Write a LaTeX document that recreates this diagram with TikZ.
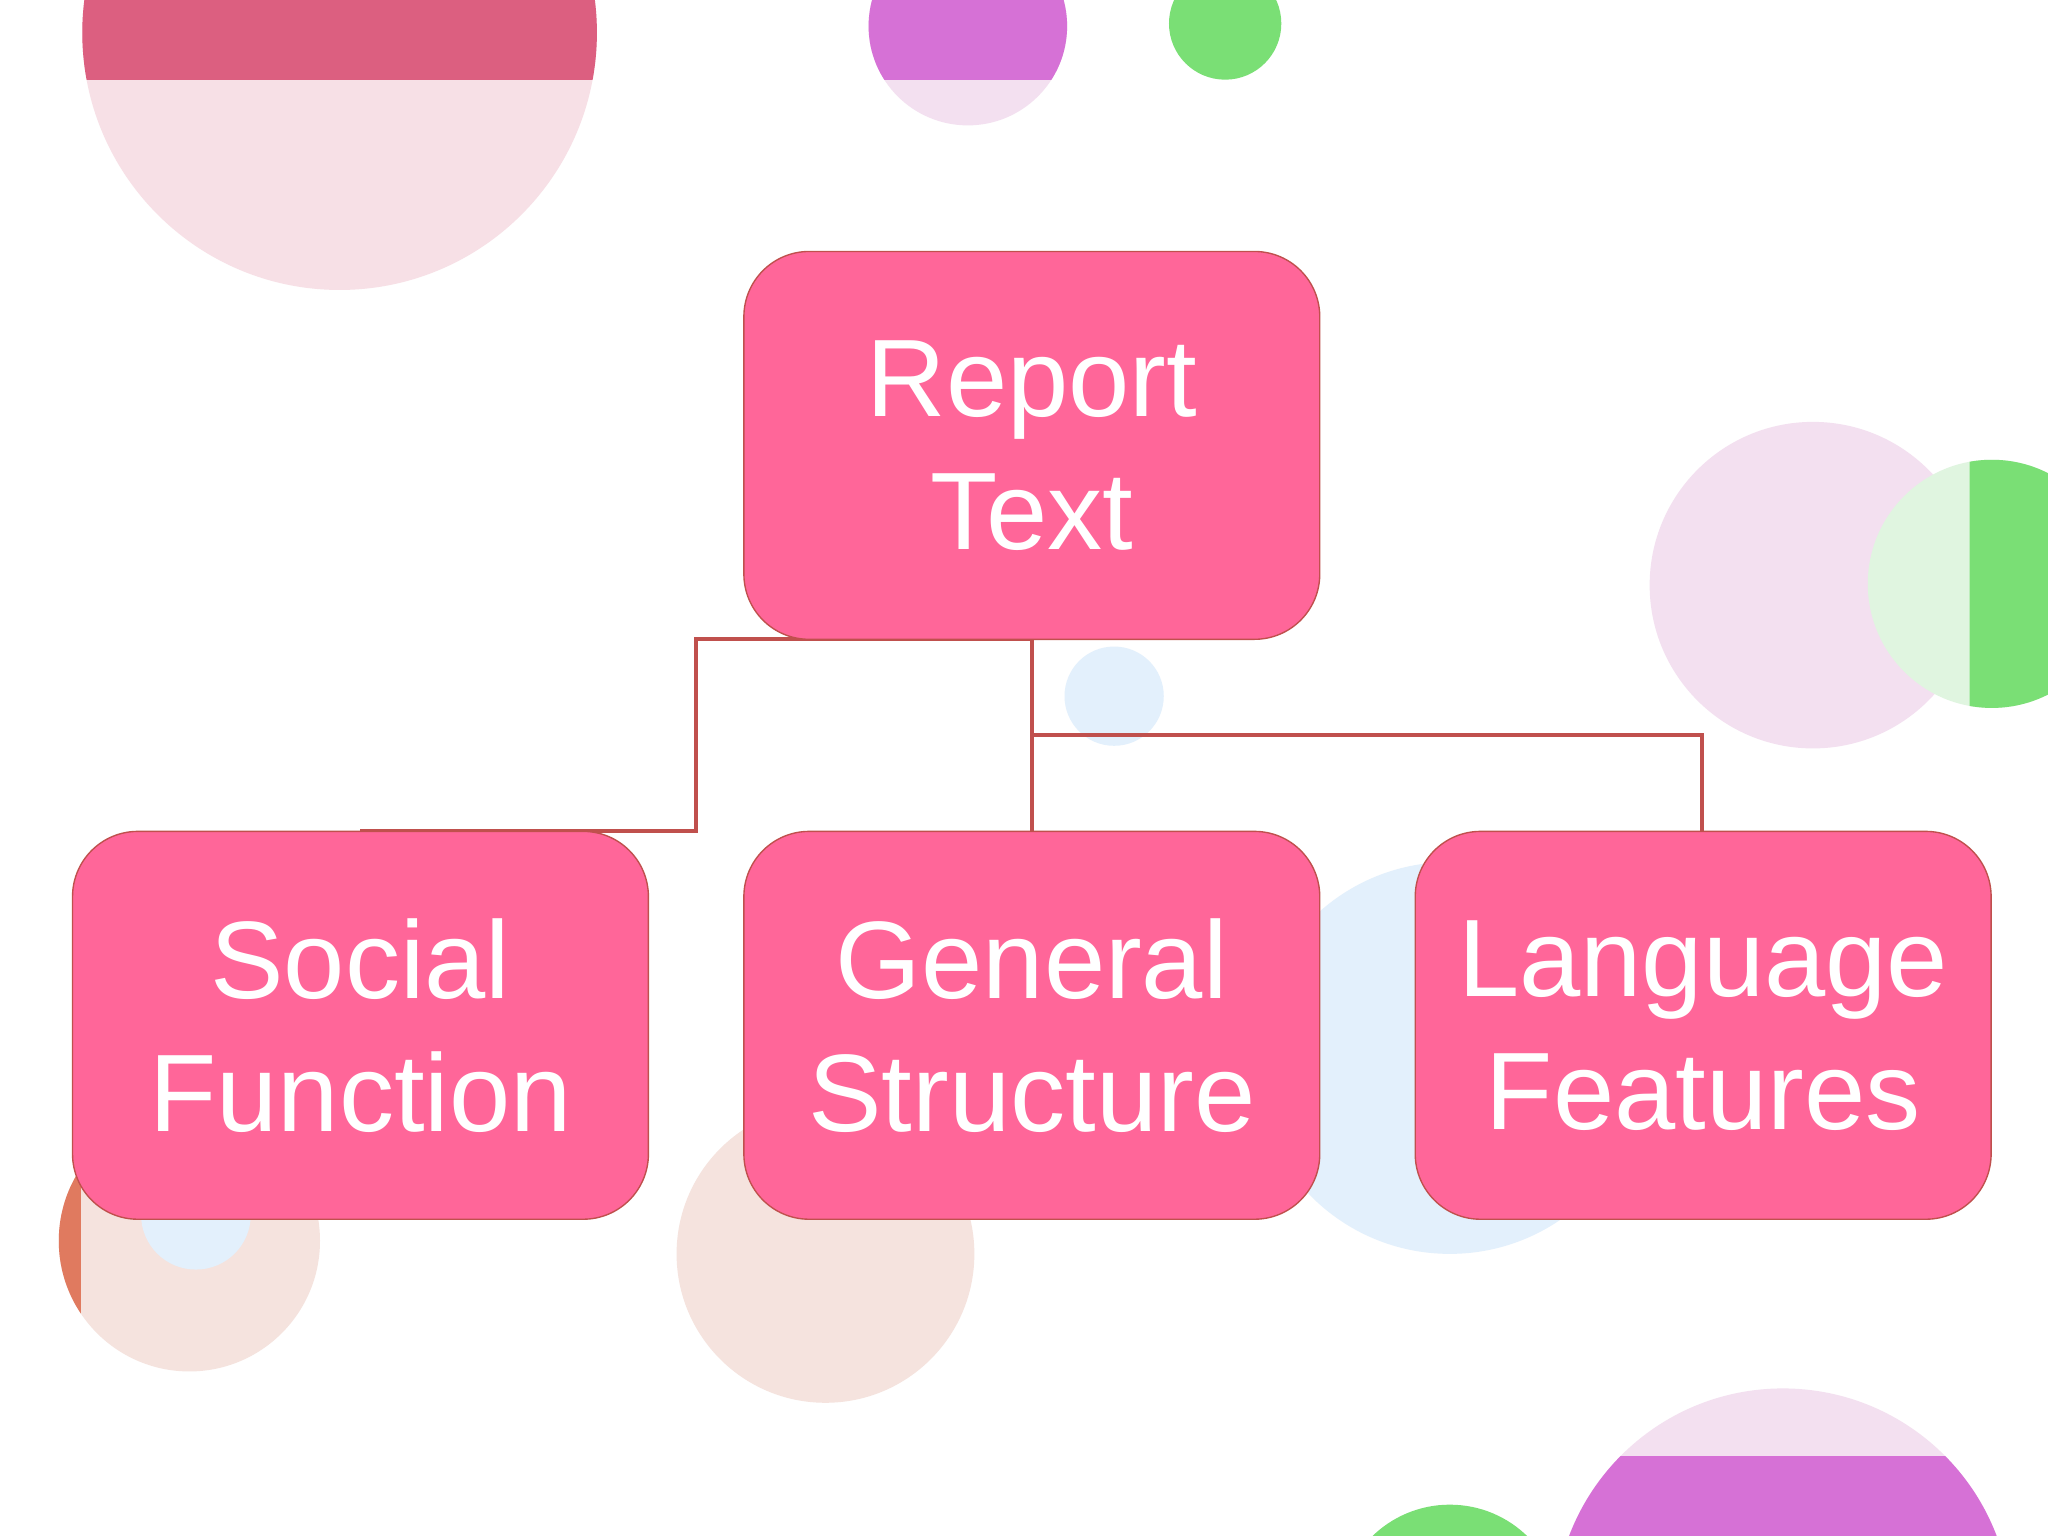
\documentclass[tikz,border=0pt]{standalone}
\usepackage{fontspec}
\setmainfont{Liberation Sans}
\definecolor{boxc}{HTML}{FF6699}
\definecolor{edgec}{HTML}{C0504D}
\definecolor{lpink}{HTML}{F7E0E6}
\definecolor{dpink}{HTML}{DC5F80}
\definecolor{purp}{HTML}{D671D6}
\definecolor{lpurp}{HTML}{F3E0F0}
\definecolor{grn}{HTML}{7ADF75}
\definecolor{lgrn}{HTML}{E0F5E0}
\definecolor{lblue}{HTML}{E3F0FC}
\definecolor{peach}{HTML}{F5E3DE}
\definecolor{orng}{HTML}{E07A5F}
\begin{document}
\begin{tikzpicture}[x=0.02cm,y=-0.02cm,
  box/.style={draw=edgec,line width=0.6pt,fill=boxc,rounded corners=1cm,minimum width=8.82cm,minimum height=5.94cm,text=white,font=\fontsize{48}{58}\selectfont,align=center,anchor=north west,inner sep=0pt},
  conn/.style={draw=edgec,line width=1.8pt}]
\useasboundingbox (0,0) rectangle (1568,1176);
\fill[white] (0,0) rectangle (1568,1176);
% background circles
\begin{scope}\clip (0,0) rectangle (1568,1176);
\fill[lpink] (260,25) circle (197);
\begin{scope}\clip (0,-10) rectangle (1568,61);\fill[dpink] (260,25) circle (197);\end{scope}
\fill[lpurp] (741,20) circle (76);
\begin{scope}\clip (0,-10) rectangle (1568,61);\fill[purp] (741,20) circle (76);\end{scope}
\fill[grn] (938,18) circle (43);
\fill[lpurp] (1388,448) circle (125);
\fill[lgrn] (1525,447) circle (95);
\begin{scope}\clip (1508,0) rectangle (1568,1176);\fill[grn] (1525,447) circle (95);\end{scope}
\fill[lblue] (853,533) circle (38);
\fill[lblue] (1110,810) circle (150);
\fill[peach] (632,960) circle (114);
\fill[peach] (145,950) circle (100);
\begin{scope}\clip (0,0) rectangle (62,1176);\fill[orng] (145,950) circle (100);\end{scope}
\fill[lblue] (150,930) circle (42);
\fill[grn] (1110,1237) circle (85);
\fill[lpurp] (1365,1238) circle (175);
\begin{scope}\clip (0,1115) rectangle (1568,1300);\fill[purp] (1365,1238) circle (175);\end{scope}
\end{scope}
% connectors
\coordinate (j1) at (533,489);
\coordinate (j2) at (790,489);
\coordinate (j3) at (790,563);
\draw[conn] (j2) -- (j1) -- (533,636) -- (276,636);
\draw[conn] (j2) -- (790,636);
\draw[conn] (j3) -- (1303,563) -- (1303,636);
% boxes
\node[box] (report) at (569,192) {Report\\Text};
\node[box] (social) at (55,636) {Social\\Function};
\node[box] (general) at (569,636) {General\\Structure};
\node[box] (lang) at (1083,636) {Language\\Features};
\end{tikzpicture}
\end{document}
